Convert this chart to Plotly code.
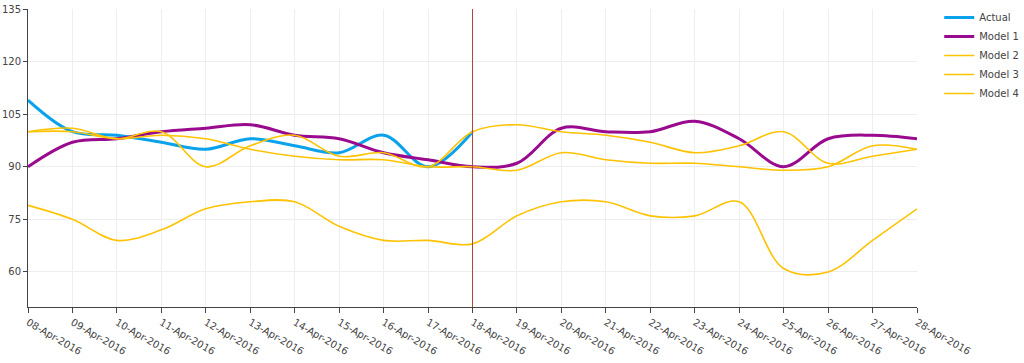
import plotly.graph_objects as go
import pandas as pd

dates = pd.date_range("2016-04-08", "2016-04-28", freq="D")

actual = [109, 100, 99, 97, 95, 98, 96, 94, 99, 90, 100]
model1 = [90, 97, 98, 100, 101, 102, 99, 98, 94, 92, 90, 91, 101, 100, 100, 103, 98, 90, 98, 99, 98]
model2 = [100, 101, 98, 100, 90, 96, 99, 93, 94, 90, 100, 102, 100, 99, 97, 94, 96, 100, 91, 93, 95]
model3 = [100, 100, 98, 99, 98, 95, 93, 92, 92, 90, 90, 89, 94, 92, 91, 91, 90, 89, 90, 96, 95]
model4 = [79, 75, 69, 72, 78, 80, 80, 73, 69, 69, 68, 76, 80, 80, 76, 76, 80, 61, 60, 69, 78]

cutoff = "2016-04-18"

BLUE = "#0AA2EA"
PURPLE = "#9A0A8E"
YELLOW = "#FFC200"

fig = go.Figure()
fig.add_trace(go.Scatter(x=dates[:len(actual)], y=actual, name="Actual", mode="lines",
                         line=dict(color=BLUE, width=3, shape="spline")))
fig.add_trace(go.Scatter(x=dates, y=model1, name="Model 1", mode="lines",
                         line=dict(color=PURPLE, width=3, shape="spline")))
fig.add_trace(go.Scatter(x=dates, y=model2, name="Model 2", mode="lines",
                         line=dict(color=YELLOW, width=1.6, shape="spline")))
fig.add_trace(go.Scatter(x=dates, y=model3, name="Model 3", mode="lines",
                         line=dict(color=YELLOW, width=1.6, shape="spline")))
fig.add_trace(go.Scatter(x=dates, y=model4, name="Model 4", mode="lines",
                         line=dict(color=YELLOW, width=1.6, shape="spline")))

fig.add_shape(type="line", x0=cutoff, x1=cutoff, y0=0, y1=1, yref="paper", xref="x",
              line=dict(color="#A84A3A", width=1))

fig.update_layout(
    width=1024, height=363,
    margin=dict(l=28, r=107, t=9, b=56, autoexpand=False),
    paper_bgcolor="white", plot_bgcolor="white",
    font=dict(family="DejaVu Sans", size=10, color="#444"),
    showlegend=True,
    legend=dict(x=1.025, y=1.02, xanchor="left", yanchor="top",
                font=dict(size=10, color="#444"), tracegroupgap=0,
                itemwidth=30, bgcolor="rgba(0,0,0,0)"),
    xaxis=dict(type="date", range=[dates[0], dates[-1]], dtick=86400000,
               tickformat="%d-%b-%Y", tickangle=30, showgrid=True, automargin=False,
               gridcolor="#EEEEEE", showline=True, linecolor="#444", linewidth=1,
               ticks="outside", ticklen=5, tickcolor="#444", zeroline=False),
    yaxis=dict(range=[50, 135], dtick=15, tick0=0, showgrid=True, automargin=False,
               gridcolor="#EEEEEE", showline=True, linecolor="#444", linewidth=1,
               ticks="outside", ticklen=4, tickcolor="#444", zeroline=False),
)

fig.write_html("out.html", config={"displayModeBar": False},
               post_script="document.body.style.margin='0';document.body.style.padding='0';")
